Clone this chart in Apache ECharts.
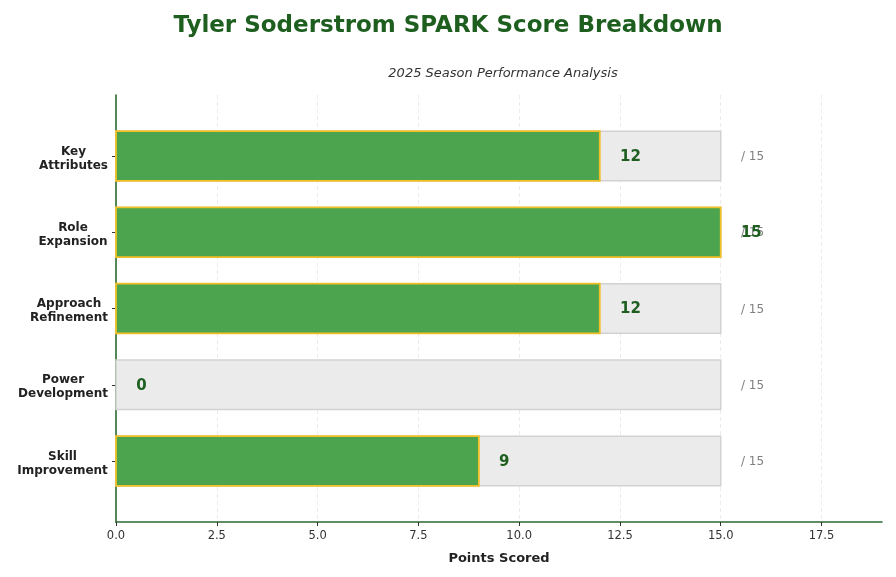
<!DOCTYPE html>
<html>
<head>
<meta charset="utf-8">
<script src="https://cdn.jsdelivr.net/npm/echarts@6/dist/echarts.min.js"></script>
<style>
  html, body { margin: 0; padding: 0; background: #fff; }
  #chart { width: 896px; height: 577px; }
</style>
</head>
<body>
<div id="chart"></div>
<script>
// data
var categories = ['Key\nAttributes', 'Role\nExpansion', 'Approach\nRefinement', 'Power\nDevelopment', 'Skill\nImprovement'];
var scores = [12, 15, 12, 0, 9];
var maxScores = [15, 15, 15, 15, 15];
var xTicks = [0, 2.5, 5, 7.5, 10, 12.5, 15, 17.5];

var FONT = 'DejaVu Sans';
var BAR_H = 0.65;   // bar thickness in category units
var LABEL_PAD = 0.5; // gap between bar end and its label
var CAT_FONT = 'bold 12px "' + FONT + '"';

var myChart = echarts.init(document.getElementById('chart'), null, { renderer: 'canvas' });

// matplotlib-style labels: block right aligned, lines centered inside it
var ctx = document.createElement('canvas').getContext('2d');
ctx.font = CAT_FONT;
var catRich = {};
categories.forEach(function (c, i) {
  var w = Math.max.apply(null, c.split('\n').map(function (s) { return ctx.measureText(s).width; }));
  catRich['c' + i] = {
    width: Math.ceil(w), align: 'center',
    fontFamily: FONT, fontSize: 12, fontWeight: 'bold', color: '#222', lineHeight: 14
  };
});

function barItem(fill, stroke, lw) {
  return function (params, api) {
    var v = api.value(0);
    var idx = api.value(1);
    if (v <= 0) return null;
    var start = api.coord([0, idx]);
    var end = api.coord([v, idx]);
    var h = api.size([0, BAR_H])[1];
    return {
      type: 'rect',
      shape: { x: start[0], y: start[1] - h / 2, width: end[0] - start[0], height: h },
      style: { fill: fill, stroke: stroke, lineWidth: lw }
    };
  };
}

function textItem(getText, color, size, weight) {
  return function (params, api) {
    var v = api.value(0);
    var idx = api.value(1);
    var p = api.coord([v + LABEL_PAD, idx]);
    return {
      type: 'text',
      x: p[0],
      y: p[1] + 1,
      style: {
        text: getText(params.dataIndex),
        fill: color,
        font: weight + ' ' + size + 'px "' + FONT + '"',
        textAlign: 'left',
        textVerticalAlign: 'middle'
      }
    };
  };
}

var maxData = maxScores.map(function (m, i) { return [m, i]; });
var scoreData = scores.map(function (s, i) { return [s, i]; });

var option = {
  animation: false,
  textStyle: { fontFamily: FONT },
  title: [
    {
      text: 'Tyler Soderstrom SPARK Score Breakdown',
      left: 'center',
      top: 10,
      textStyle: { fontFamily: FONT, fontSize: 23, fontWeight: 'bold', color: '#1e5f20' }
    },
    {
      text: '2025 Season Performance Analysis',
      left: 498,
      textAlign: 'center',
      top: 62,
      textStyle: { fontFamily: FONT, fontSize: 13, fontStyle: 'italic', fontWeight: 'normal', color: '#333' }
    }
  ],
  grid: { left: 116, right: 14, top: 95, bottom: 55 },
  xAxis: {
    type: 'value',
    min: 0,
    max: 19,
    interval: 2.5,
    name: 'Points Scored',
    nameLocation: 'middle',
    nameGap: 30,
    nameTextStyle: { fontFamily: FONT, fontSize: 13, fontWeight: 'bold', color: '#222' },
    axisLine: { show: true, onZero: false, lineStyle: { color: '#2e6b30', width: 1.5 } },
    axisTick: { show: true, customValues: xTicks, length: 4, lineStyle: { color: '#333' } },
    axisLabel: {
      customValues: xTicks,
      formatter: function (v) { return v.toFixed(1); },
      fontFamily: FONT, fontSize: 11.5, color: '#333', margin: 8
    },
    splitLine: { show: true, lineStyle: { color: '#e6e6e6', type: [4, 3], width: 0.8 } }
  },
  yAxis: {
    type: 'value',
    inverse: true,
    min: -0.8,
    max: 4.8,
    axisLine: { show: true, onZero: false, lineStyle: { color: '#2e6b30', width: 1.6 } },
    axisTick: { show: true, customValues: [0, 1, 2, 3, 4], length: 4, lineStyle: { color: '#333' } },
    axisLabel: {
      customValues: [0, 1, 2, 3, 4],
      formatter: function (v) {
        var i = Math.round(v);
        return categories[i].split('\n').map(function (s) { return '{c' + i + '|' + s + '}'; }).join('\n');
      },
      rich: catRich,
      fontFamily: FONT, fontSize: 12, fontWeight: 'bold', color: '#222',
      lineHeight: 14, margin: 8, align: 'right', padding: [5, 0, 0, 0]
    },
    splitLine: { show: false }
  },
  series: [
    {
      name: 'Max',
      type: 'custom',
      renderItem: barItem('#ebebeb', '#d2d2d2', 1.5),
      data: maxData,
      z: 1
    },
    {
      name: 'Score',
      type: 'custom',
      renderItem: barItem('#4ca44e', '#f2bf26', 1.8),
      data: scoreData,
      z: 2
    },
    {
      name: 'Max label',
      type: 'custom',
      renderItem: textItem(function (i) { return '/ ' + maxScores[i]; }, '#808080', 12, 'normal'),
      data: maxData,
      z: 3
    },
    {
      name: 'Score label',
      type: 'custom',
      renderItem: textItem(function (i) { return String(scores[i]); }, '#1e5f20', 15, 'bold'),
      data: scoreData,
      z: 4
    }
  ]
};

myChart.setOption(option);
</script>
</body>
</html>
